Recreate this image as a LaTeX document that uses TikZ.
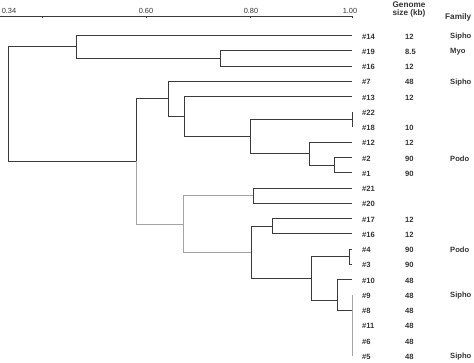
\documentclass[tikz,border=0pt]{standalone}
\usepackage{fontspec}
\setsansfont{Liberation Sans}
\usetikzlibrary{positioning}
\definecolor{dgInk}{HTML}{333333}
\definecolor{dgLine}{HTML}{3A3A3A}
\definecolor{dgGrey}{HTML}{A3A3A3}
\newcommand{\dgfont}{\sffamily\fontsize{7.6}{9}\selectfont}

\begin{document}
\begin{tikzpicture}[
  x=1pt, y=-1pt, text=dgInk,
  br/.style={draw=dgLine, line width=1pt},
  lbr/.style={draw=dgGrey, line width=1pt},
  axis/.style={draw=dgLine, line width=0.9pt},
  axlbl/.style={inner sep=0pt, font=\sffamily\fontsize{7.4}{9}\selectfont},
  tag/.style={inner sep=0pt, anchor=west, font=\dgfont\bfseries},
  hdr/.style={inner sep=0pt, align=center, font=\sffamily\bfseries\fontsize{8.2}{9}\selectfont},
]
\useasboundingbox (0,0) rectangle (474,362);

% similarity scale
\draw[axis] (0,16) -- (352,16);
\foreach \t in {42,146,250,352}
  \draw[axis] (\t,16) -- (\t,18);
\node[axlbl] (a34) at (9,11) {0.34};
\node[axlbl] (a60) at (146,11) {0.60};
\node[axlbl] (a80) at (251,11) {0.80};
\node[axlbl] (a100) at (350,11) {1.00};

% column heads
\node[hdr] (gen) at (409,5) {Genome};
\node[hdr, below=1pt of gen] (kb) {size (kb)};
\node[hdr, anchor=west] (famh) at (445,17) {Family};

% leaves: index / isolate / genome size / family
\foreach \i/\n/\s/\f in {0/14/12/Sipho, 1/19/8.5/Myo, 2/16/12/{}, 3/7/48/Sipho,
    4/13/12/{}, 5/22/{}/{}, 6/18/10/{}, 7/12/12/{}, 8/2/90/Podo, 9/1/90/{},
    10/21/{}/{}, 11/20/{}/{}, 12/17/12/{}, 13/16/12/{}, 14/4/90/Podo, 15/3/90/{},
    16/10/48/{}, 17/9/48/Sipho, 18/8/48/{}, 19/11/48/{}, 20/6/48/{}, 21/5/48/Sipho} {
  \coordinate (l\i) at (352,{35.5+15.25*\i});
  \node[tag, right=10pt of l\i, yshift=-1pt] (t\i) {\#\n};
  \node[tag] (s\i) at (405,{36.5+15.25*\i}) {\s};
  \node[tag] (f\i) at (450,{36.5+15.25*\i}) {\f};
}

% internal nodes
\coordinate (R) at (8,104);
\coordinate (A) at (76,46.5);
\coordinate (B) at (220,58);
\coordinate (C) at (136,161);
\coordinate (D) at (168,98.5);
\coordinate (E) at (184,116);
\coordinate (F) at (250,136);
\coordinate (G) at (352,119);
\coordinate (H) at (309,153);
\coordinate (I) at (334,165);
\coordinate (K) at (183,224);
\coordinate (J) at (253,195.5);
\coordinate (L) at (251,252);
\coordinate (M) at (272,226);
\coordinate (N) at (311,278);
\coordinate (O) at (349,256.5);
\coordinate (P) at (337,300);
\coordinate (Q) at (352,310);

% branches
\draw[br] (R) |- (A) (R) |- (C);
\draw[br] (A) |- (l0) (A) |- (B);
\draw[br] (B) |- (l1) (B) |- (l2);
\draw[br] (C) |- (D);
\draw[lbr] (C) |- (K);
\draw[br] (D) |- (l3) (D) |- (E);
\draw[br] (E) |- (l4) (E) |- (F);
\draw[br] (F) |- (G) (F) |- (H);
\draw[br] (G) |- (l5) (G) |- (l6);
\draw[br] (H) |- (l7) (H) |- (I);
\draw[br] (I) |- (l8) (I) |- (l9);
\draw[lbr] (K) |- (J) (K) |- (L);
\draw[br] (J) |- (l10) (J) |- (l11);
\draw[br] (L) |- (M) (L) |- (N);
\draw[br] (M) |- (l12) (M) |- (l13);
\draw[br] (N) |- (O) (N) |- (P);
\draw[br] (O) |- (l14) (O) |- (l15);
\draw[br] (P) |- (l16) (P) |- (Q);
\draw[lbr] (Q) |- (l17) (Q) |- (l21);
\end{tikzpicture}
\end{document}
